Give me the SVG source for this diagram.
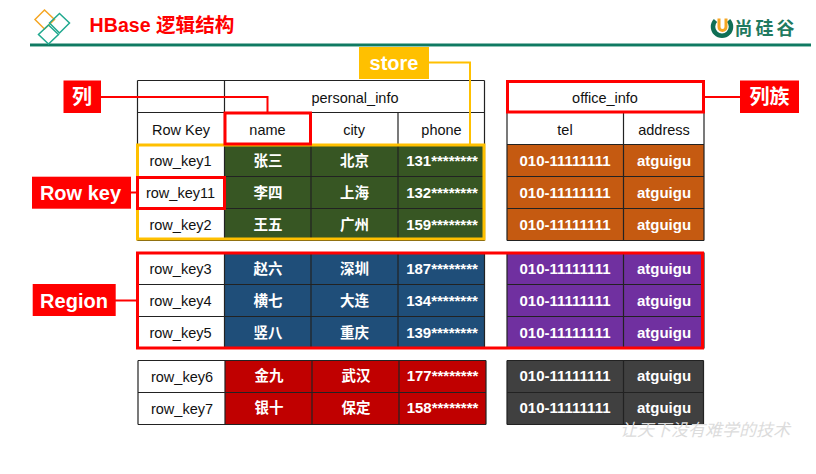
<svg xmlns="http://www.w3.org/2000/svg" width="816" height="474" viewBox="0 0 816 474">
<style>
text{font-family:"Liberation Sans","Noto Sans CJK SC",sans-serif;text-anchor:middle}
.h{font-size:14.5px;fill:#111}
.w{font-size:15px;font-weight:700;fill:#fff}
.cj{font-size:14.500px;font-weight:700;fill:#fff}
.l{font-weight:700;fill:#fff;font-size:20px}
.g{fill:none;stroke:#222;stroke-width:1.2}
.r{fill:none;stroke:#f00;stroke-width:3}
.y{fill:none;stroke:#ffc000;stroke-width:3}
.ln{fill:none;stroke:#f00;stroke-width:2}
.lny{fill:none;stroke:#ffc000;stroke-width:2}
</style>
<rect width="816" height="474" fill="#fff"/>
<g id="header">
<rect x="30" y="43.500" width="781" height="2.500" fill="#0f7a62"/>
<rect x="30" y="46" width="781" height="1" fill="#8fc4b6"/>
<g fill="none" stroke-width="1.500">
<path d="M44.500 10L54.500 19.500L44.500 29L35 19.500Z" stroke="#f5a623"/>
<path d="M59.500 13.500L69.500 23L59.500 33L49.500 23Z" stroke="#1fa88e"/>
<path d="M48.500 25L58.500 34.500L48.500 44L38.500 34.500Z" stroke="#1fa88e"/>
</g>
<text x="162" y="32" style="font-size:19.600px;font-weight:700;fill:#f00">HBase 逻辑结构</text>
<g id="logo">
<path d="M715.500 20.500A9 9 0 1 0 728.500 20.500" fill="none" stroke="#0f6f55" stroke-width="4.500"/>
<path d="M719 18.500V27A3.500 3.500 0 0 0 726 27V18.500" fill="none" stroke="#f5a623" stroke-width="3"/>
<text x="766" y="35" style="font-size:18px;letter-spacing:3px;fill:#1f7a60;font-weight:700">尚硅谷</text>
</g>
</g>
<g id="cells">
<rect x="224.500" y="144.500" width="260" height="96" fill="#375623"/>
<rect x="224.500" y="252.500" width="260" height="96" fill="#1f4e79"/>
<rect x="225" y="360.500" width="261" height="64" fill="#c00000"/>
<rect x="507" y="144.500" width="197" height="96" fill="#c55a11"/>
<rect x="507" y="252.500" width="197" height="96" fill="#7030a0"/>
<rect x="507" y="360.500" width="196.500" height="64" fill="#404040"/>
</g>
<g id="grid">
<path class="g" d="M137.500 80.500H484.500M137.500 112.500H484.500M137.500 144.500H484.500M137.500 176.500H484.500M137.500 208.500H484.500M137.500 240.500H484.500M137.500 252.500H484.500M137.500 284.500H484.500M137.500 316.500H484.500M137.500 348.500H484.500M138 360.500H486M138 392.500H486M138 424.500H486"/>
<path class="g" d="M137.500 80.500V240.500M224.500 80.500V240.500M311 112.500V240.500M398 112.500V240.500M484.500 80.500V240.500M137.500 252.500V348.500M224.500 252.500V348.500M311 252.500V348.500M398 252.500V348.500M484.500 252.500V348.500M138 360.500V424.500M225 360.500V424.500M312 360.500V424.500M399 360.500V424.500M486 360.500V424.500"/>
<path class="g" d="M507 80.500H704M507 112.500H704M507 144.500H704M507 176.500H704M507 208.500H704M507 240.500H704M507 252.500H704M507 284.500H704M507 316.500H704M507 348.500H704M507 360.500H703.500M507 392.500H703.500M507 424.500H703.500"/>
<path class="g" d="M507 80.500V240.500M623.500 112.500V240.500M704 80.500V240.500M507 252.500V348.500M623.500 252.500V348.500M704 252.500V348.500M507 360.500V424.500M623.500 360.500V424.500M703.500 360.500V424.500"/>
</g>
<g id="texts">
<text class="h" x="355" y="103">personal_info</text>
<text class="h" x="605" y="103">office_info</text>
<text class="h" x="181" y="135">Row Key</text>
<text class="h" x="267.500" y="135">name</text>
<text class="h" x="354" y="135">city</text>
<text class="h" x="441.500" y="135">phone</text>
<text class="h" x="565" y="135">tel</text>
<text class="h" x="664" y="135">address</text>
<text class="h" x="180.500" y="166">row_key1</text>
<text class="h" x="180.500" y="198">row_key11</text>
<text class="h" x="180.500" y="230">row_key2</text>
<text class="h" x="180.500" y="274">row_key3</text>
<text class="h" x="180.500" y="306">row_key4</text>
<text class="h" x="180.500" y="338">row_key5</text>
<text class="h" x="182" y="382">row_key6</text>
<text class="h" x="182" y="414">row_key7</text>
<text class="cj" x="268" y="166">张三</text><text class="cj" x="354.500" y="166">北京</text>
<text class="cj" x="268" y="198">李四</text><text class="cj" x="354.500" y="198">上海</text>
<text class="cj" x="268" y="230">王五</text><text class="cj" x="354.500" y="230">广州</text>
<text class="cj" x="268" y="274">赵六</text><text class="cj" x="354.500" y="274">深圳</text>
<text class="cj" x="268" y="306">横七</text><text class="cj" x="354.500" y="306">大连</text>
<text class="cj" x="268" y="338">竖八</text><text class="cj" x="354.500" y="338">重庆</text>
<text class="cj" x="269" y="381">金九</text><text class="cj" x="356" y="381">武汉</text>
<text class="cj" x="269" y="413">银十</text><text class="cj" x="356" y="413">保定</text>
<text class="w" x="442" y="166">131********</text>
<text class="w" x="442" y="198">132********</text>
<text class="w" x="442" y="230">159********</text>
<text class="w" x="442" y="274">187********</text>
<text class="w" x="442" y="306">134********</text>
<text class="w" x="442" y="338">139********</text>
<text class="w" x="442.500" y="381">177********</text>
<text class="w" x="442.500" y="413">158********</text>
<text class="w" x="565" y="166">010-11111111</text><text class="w" x="664" y="166">atguigu</text>
<text class="w" x="565" y="198">010-11111111</text><text class="w" x="664" y="198">atguigu</text>
<text class="w" x="565" y="230">010-11111111</text><text class="w" x="664" y="230">atguigu</text>
<text class="w" x="565" y="274">010-11111111</text><text class="w" x="664" y="274">atguigu</text>
<text class="w" x="565" y="306">010-11111111</text><text class="w" x="664" y="306">atguigu</text>
<text class="w" x="565" y="338">010-11111111</text><text class="w" x="664" y="338">atguigu</text>
<text class="w" x="565" y="381">010-11111111</text><text class="w" x="664" y="381">atguigu</text>
<text class="w" x="565" y="413">010-11111111</text><text class="w" x="664" y="413">atguigu</text>
</g>
<g id="connectors">
<path class="ln" d="M101 97H267.500V113"/>
<path class="ln" d="M704 97H740"/>
<path class="ln" d="M131 192.500H137"/>
<path class="ln" d="M115 300.500H137"/>
<path class="lny" d="M428 62.500H470V144"/>
</g>
<g id="highlights">
<rect class="y" x="137.500" y="145" width="346.500" height="94"/>
<rect class="r" x="225" y="113" width="85.500" height="31"/>
<rect class="r" x="507.500" y="81.500" width="196" height="30.500"/>
<rect class="r" x="137.500" y="177.500" width="87" height="31"/>
<rect class="r" x="137.500" y="253" width="565" height="95"/>
</g>
<g id="label-lie"><rect x="63.500" y="80.500" width="37.500" height="32.500" fill="#f00"/><text class="l" x="82" y="104">列</text></g>
<g id="label-liezu"><rect x="740" y="80.500" width="59" height="32.500" fill="#f00"/><text class="l" x="769.500" y="104">列族</text></g>
<g id="label-store"><rect x="359" y="47" width="70" height="32" fill="#ffc000"/><text class="l" x="394" y="70">store</text></g>
<g id="label-rowkey"><rect x="32" y="176.700" width="99" height="32" fill="#f00"/><text class="l" x="80.500" y="200">Row key</text></g>
<g id="label-region"><rect x="32.700" y="284" width="83" height="32" fill="#f00"/><text class="l" x="74" y="308">Region</text></g>
<text x="705" y="436" style="font-size:17px;font-style:italic;fill:#dcdcdc" id="watermark">让天下没有难学的技术</text>
</svg>
